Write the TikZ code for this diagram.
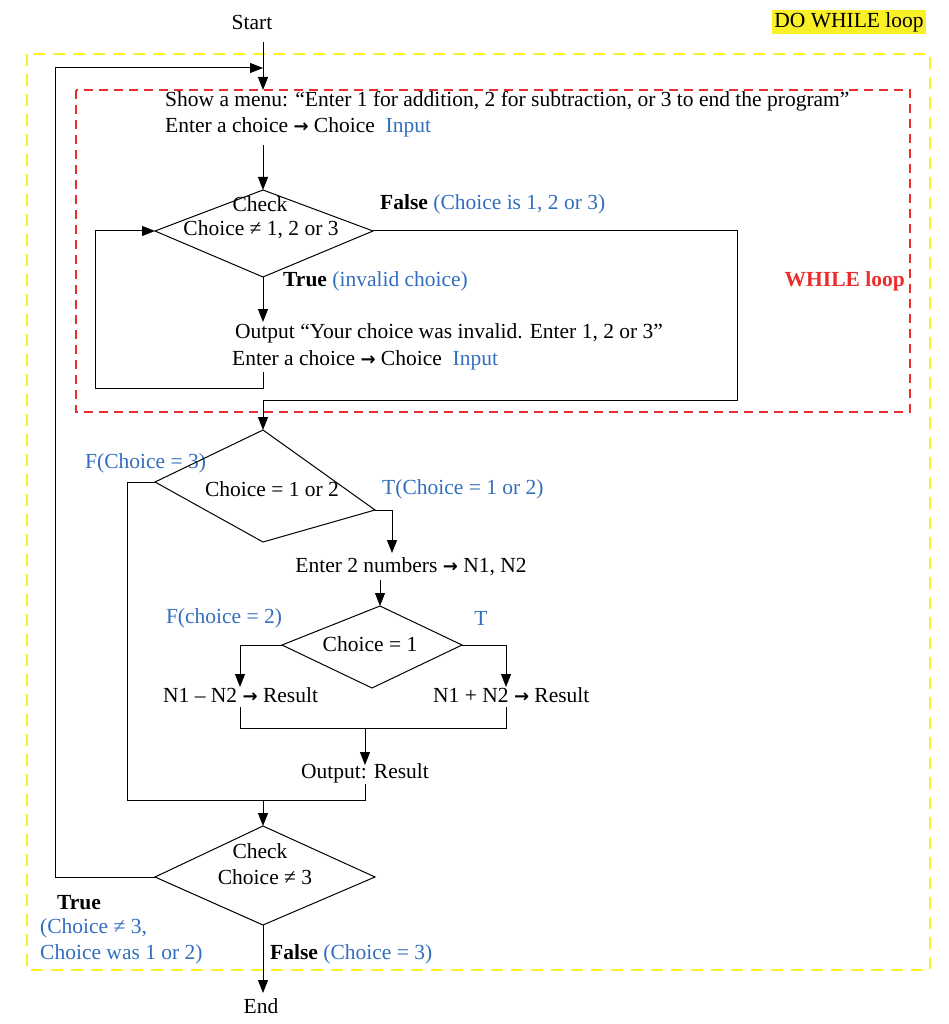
\documentclass[tikz,border=0pt]{standalone}
\usepackage{fontspec}
\setmainfont{Liberation Serif}
\newfontfamily\arrfont{DejaVu Sans}
\newcommand{\ra}{{\arrfont\bfseries\fontsize{18}{22}\selectfont →}}
\usetikzlibrary{arrows.meta}
\definecolor{myblue}{RGB}{50,110,190}
\definecolor{myred}{RGB}{235,45,45}
\definecolor{myyel}{RGB}{250,240,40}
\begin{document}
\begin{tikzpicture}[x=1pt,y=-1pt,
  every node/.style={font=\fontsize{21.5}{25}\selectfont,inner sep=0pt},
  ln/.style={draw=black,line width=1pt},
  ar/.style={ln,-{Triangle[length=13pt,width=10pt]}},
  lbl/.style={text=myblue},
  dia/.style={draw=black,line width=1pt}]
\useasboundingbox (0,0) rectangle (949,1024);
% boxes
\draw[myyel,line width=2.5pt,dash pattern=on 12pt off 8pt] (27,54) rectangle (930,970);
\draw[myred,line width=2pt,dash pattern=on 9pt off 6pt] (76,90) rectangle (910,412);
\node[fill=myyel,inner sep=2pt] (dw) at (849,22) {DO WHILE loop};
\node[text=myred,font=\fontsize{21.5}{25}\selectfont\bfseries,anchor=east] (wl) at (905,281) {WHILE loop};
% texts
\node (start) at (252,22) {Start};
\node[anchor=west] (menu1) at (165,101) {Show a menu: “Enter 1 for addition, 2 for subtraction, or 3 to end the program”};
\node[anchor=west] (menu2) at (165,127) {Enter a choice \ra{} Choice \ \textcolor{myblue}{Input}};
\node[anchor=west] (out1) at (235,333) {Output “Your choice was invalid. Enter 1, 2 or 3”};
\node[anchor=west] (out2) at (232,360) {Enter a choice \ra{} Choice \ \textcolor{myblue}{Input}};
\node[anchor=west] (fl1) at (380,204) {\textbf{False} \textcolor{myblue}{(Choice is 1, 2 or 3)}};
\node[anchor=west] (tr1) at (283,281) {\textbf{True} \textcolor{myblue}{(invalid choice)}};
\node (d1a) at (260,204) {Check};
\node (d1b) at (261,230) {Choice ≠ 1, 2 or 3};
\node (d2t) at (272,489) {Choice = 1 or 2};
\node[lbl,anchor=west] (f2) at (85,463) {F(Choice = 3)};
\node[lbl,anchor=west] (t2) at (382,489) {T(Choice = 1 or 2)};
\node (enter2) at (411,567) {Enter 2 numbers \ra{} N1, N2};
\node[lbl] (f4) at (224,618) {F(choice = 2)};
\node[lbl] (t4) at (481,618) {T};
\node (d4t) at (370,644) {Choice = 1};
\node[anchor=west] (sub) at (163,695) {N1 – N2 \ra{} Result};
\node[anchor=west] (add) at (433,695) {N1 + N2 \ra{} Result};
\node (outr) at (365,773) {Output: Result};
\node (d3a) at (260,851) {Check};
\node (d3b) at (265,877) {Choice ≠ 3};
\node[anchor=west,font=\fontsize{21.5}{25}\selectfont\bfseries] (tr3) at (57,903) {True};
\node[lbl,anchor=west] (tr3a) at (40,928) {(Choice ≠ 3,};
\node[lbl,anchor=west] (tr3b) at (40,954) {Choice was 1 or 2)};
\node[anchor=west] (fl3) at (270,954) {\textbf{False} \textcolor{myblue}{(Choice = 3)}};
\node (endn) at (261,1006) {End};
% coordinates
\coordinate (s0) at (263,42);
\coordinate (m0) at (263,90);
\coordinate (m1) at (263,145);
\coordinate (D1t) at (263,190);
\coordinate (D1l) at (155,231);
\coordinate (D1r) at (373,231);
\coordinate (D1b) at (263,277);
\coordinate (o0) at (263,322);
\coordinate (o1) at (263,372);
\coordinate (D2t) at (263,430);
\coordinate (D2l) at (155,482);
\coordinate (D2r) at (375,510);
\coordinate (D2b) at (263,542);
\coordinate (e0) at (392,553);
\coordinate (e1) at (380,580);
\coordinate (D4t) at (380,606);
\coordinate (D4l) at (282,645);
\coordinate (D4r) at (462,645);
\coordinate (D4b) at (372,688);
\coordinate (D3t) at (263,826);
\coordinate (D3l) at (155,877);
\coordinate (D3r) at (375,877);
\coordinate (D3b) at (263,925);
\coordinate (en) at (263,993);
\coordinate (lp) at (263,68);
% diamonds
\draw[dia] (D1t)--(D1r)--(D1b)--(D1l)--cycle;
\draw[dia] (D2t)--(D2r)--(D2b)--(D2l)--cycle;
\draw[dia] (D4t)--(D4r)--(D4b)--(D4l)--cycle;
\draw[dia] (D3t)--(D3r)--(D3b)--(D3l)--cycle;
% connectors
\draw[ar] (s0)--(m0);
\draw[ar] (D3l)--(55,877)--(55,68)--(lp);
\draw[ar] (m1)--(D1t);
\draw[ar] (D1b)--(o0);
\draw[ar] (o1)--(263,388)--(95,388)--(95,231)--(D1l);
\draw[ar] (D1r)--(737,231)--(737,400)--(263,400)--(D2t);
\draw[ar] (D2r)--(392,510)--(e0);
\draw[ar] (e1)--(D4t);
\draw[ar] (D4l)--(240,645)--(240,687);
\draw[ar] (D4r)--(506,645)--(506,687);
\draw[ln] (240,707)--(240,728)--(506,728)--(506,707);
\draw[ar] (365,728)--(365,765);
\draw[ln] (365,784)--(365,800)--(127,800)--(127,482)--(D2l);
\draw[ar] (263,800)--(D3t);
\draw[ar] (D3b)--(en);
\end{tikzpicture}
\end{document}
